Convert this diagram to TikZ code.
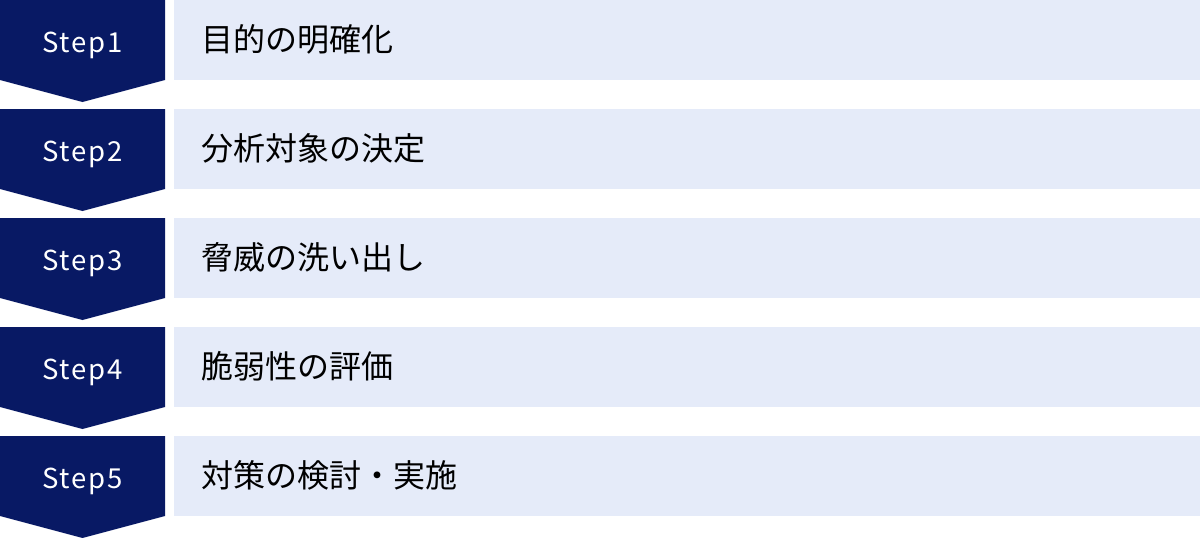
\documentclass[tikz,border=0pt]{standalone}
\usepackage{fontspec}
\newfontfamily\jp{Noto Sans CJK JP}
\definecolor{navy}{RGB}{8,25,100}
\definecolor{pale}{RGB}{229,235,249}
\begin{document}
\begin{tikzpicture}[x=1pt,y=-1pt,
  chevron/.style={fill=navy,draw=none},
  bar/.style={fill=pale,draw=none},
  steplabel/.style={text=white,font=\jp\fontsize{27.5}{27.5}\selectfont\addfontfeature{LetterSpace=6},anchor=base,inner sep=0pt},
  tasklabel/.style={text=black,font=\jp\fontsize{32}{32}\selectfont,anchor=base west,inner sep=0pt}]
\useasboundingbox (0,0) rectangle (1200,538);
\foreach \i/\t in {0/目的の明確化,1/分析対象の決定,2/脅威の洗い出し,3/脆弱性の評価,4/対策の検討・実施}{
  \pgfmathsetmacro{\yy}{\i*109}
  \pgfmathtruncatemacro{\n}{\i+1}
  \fill[chevron] (0,\yy) -- (165,\yy) -- (165,\yy+80) -- (82.5,\yy+102) -- (0,\yy+80) -- cycle;
  \fill[bar] (174,\yy) rectangle (1200,\yy+80);
  \node[steplabel] (s\n) at (82.5,\yy+52.5) {Step\n};
  \node[tasklabel] (t\n) at (201,\yy+51.5) {\t};
}
\end{tikzpicture}
\end{document}
